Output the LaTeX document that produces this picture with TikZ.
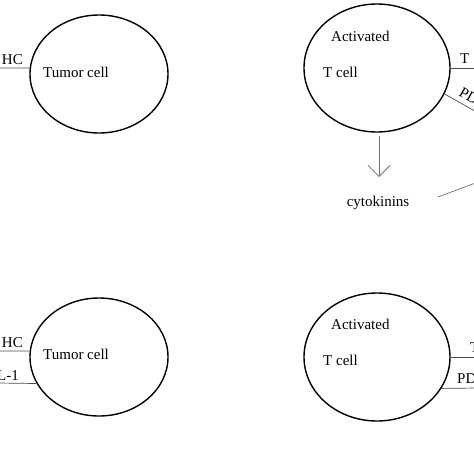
\documentclass[tikz,border=0pt]{standalone}
\usepackage{fontspec}
\setmainfont{Liberation Serif}
\usetikzlibrary{shapes.geometric,arrows.meta}
\begin{document}
\begin{tikzpicture}[x=1pt,y=-1pt,
  cellL/.style={draw,ellipse,line width=1.4pt,inner sep=0pt,minimum width=138pt,minimum height=118pt},
  cellR/.style={draw,ellipse,line width=1.4pt,inner sep=0pt,minimum width=146pt,minimum height=128pt},
  lbl/.style={inner sep=0pt,font=\fontsize{15}{18}\selectfont},
  bond/.style={draw=black!70,line width=0.7pt},
  flow/.style={draw=black!55,line width=0.8pt,-{Straight Barb[length=11pt,width=22pt,line width=0.8pt]}},
  faint/.style={draw=black!60,line width=0.6pt}]
\useasboundingbox (0,0) rectangle (474,474);
\clip (0,0) rectangle (474,474);
\fill[white] (0,0) rectangle (474,474);

% top-left tumor cell
\node[cellL] (E1) at (99,74) {};
\node[lbl,anchor=base west] (t1) at (43,77) {Tumor cell};
\node[lbl,anchor=base east] (mhc1) at (23,64) {HC};
\coordinate (l1) at (-2,68);
\draw[bond] (l1) -- (E1.175);

% top-right activated T cell
\node[cellR] (E2) at (377,68) {};
\node[lbl,anchor=base west] (a2) at (331,41) {Activated};
\node[lbl,anchor=base west] (tc2) at (323,77) {T cell};
\node[lbl,anchor=base west] (tcr2) at (460,63) {T};
\coordinate (r2a) at (478,68);
\draw[bond] (E2.east) -- (r2a);
\coordinate (r2b) at (480,114);
\draw[bond] (E2.-21) -- (r2b);
\node[lbl,anchor=base west,rotate=-30] (pd2) at (458,95) {PD};
\node[lbl,anchor=base] (cyto) at (378,206) {cytokinins};
\draw[flow] ([xshift=2pt,yshift=-3pt]E2.south) -- ([xshift=2pt]E2.south |- 0,177);
\coordinate (c1) at (438,197);
\coordinate (c2) at (478,182);
\draw[faint] (c1) -- (c2);

% bottom-left tumor cell
\node[cellL] (E3) at (99,357) {};
\node[lbl,anchor=base west] (t3) at (43,359) {Tumor cell};
\node[lbl,anchor=base east] (mhc3) at (23,347) {HC};
\node[lbl,anchor=base east] (pdl3) at (19,380) {L-1};
\coordinate (l3a) at (-2,351);
\coordinate (l3b) at (-2,383);
\draw[bond] (l3a) -- (E3.175);
\draw[bond] (l3b) -- (E3.203);

% bottom-right activated T cell
\node[cellR] (E4) at (377,357) {};
\node[lbl,anchor=base west] (a4) at (331,329) {Activated};
\node[lbl,anchor=base west] (tc4) at (323,365) {T cell};
\node[lbl,anchor=base west] (tcr4) at (470,352) {T};
\node[lbl,anchor=base west] (pd4) at (457,383) {PD};
\coordinate (r4a) at (478,357);
\coordinate (r4b) at (478,388);
\draw[bond] (E4.east) -- (r4a);
\draw[bond] (E4.-26) -- (r4b);
\end{tikzpicture}
\end{document}
